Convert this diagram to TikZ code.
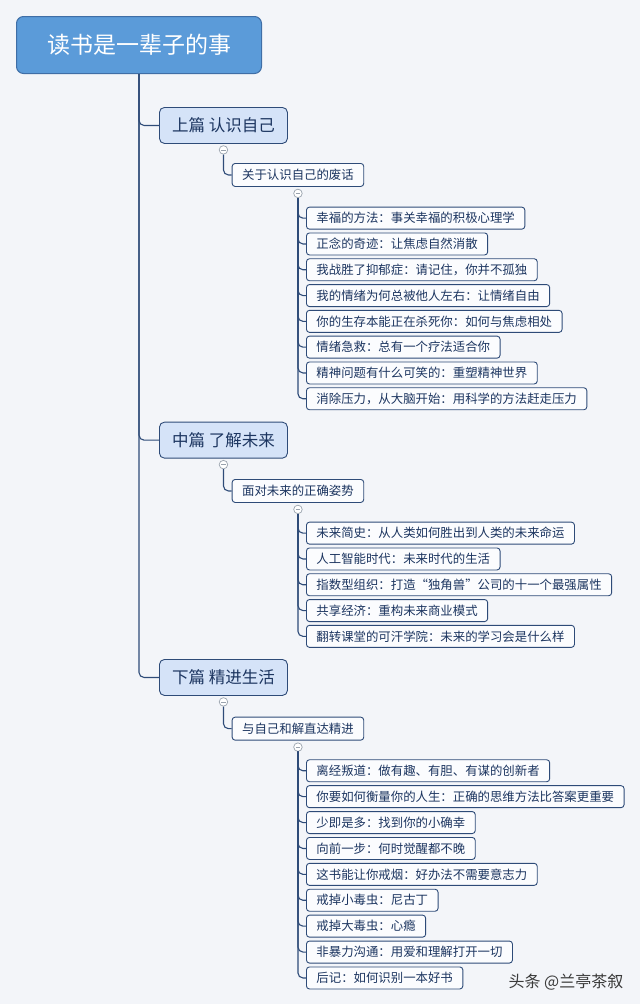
\documentclass[tikz,border=0pt]{standalone}
\usepackage{fontspec}
\newfontfamily\cjk{Noto Sans CJK SC}
\definecolor{bg}{HTML}{F3F5F9}
\definecolor{rootfill}{HTML}{5B9BD9}
\definecolor{rootline}{HTML}{3F6EA6}
\definecolor{onefill}{HTML}{D5E3F8}
\definecolor{linec}{HTML}{2E4B78}
\definecolor{txt}{HTML}{1C3560}
\definecolor{leaffill}{HTML}{FBFCFE}
\definecolor{knob}{HTML}{9AA3AE}
\definecolor{wmc}{HTML}{3A3A3A}
\begin{document}
\begin{tikzpicture}[x=1pt,y=-1pt,
  rootbox/.style={draw=rootline, fill=rootfill, rounded corners=7pt, line width=1pt, text=white,
    font=\cjk\fontsize{23}{27}\selectfont, minimum width=245pt, minimum height=57pt, inner sep=0pt, anchor=north west},
  onebox/.style={draw=linec, fill=onefill, rounded corners=5pt, line width=0.9pt, text=txt,
    font=\cjk\fontsize{16.5}{19}\selectfont, minimum width=128pt, minimum height=36pt, inner sep=0pt, anchor=north west},
  leafbox/.style={draw=linec, fill=leaffill, rounded corners=3pt, line width=0.9pt, text=txt,
    font=\cjk\fontsize{12.4}{14}\selectfont, text width=#1, align=left, inner xsep=10pt, inner ysep=0pt,
    minimum height=22pt, anchor=north west},
  twobox/.style={leafbox=#1, minimum height=23pt},
  link/.style={draw=linec, line width=1.1pt, rounded corners=5pt},
  knobc/.style={circle, draw=knob, fill=white, line width=0.7pt, minimum size=8.5pt, inner sep=0pt},
  minus/.style={draw=knob, line width=0.7pt}
]
\fill[bg] (0,0) rectangle (640,1004);
\useasboundingbox (0,0) rectangle (640,1004);

% root and parts
\node[rootbox] (root) at (16,16) {读书是一辈子的事};
\node[onebox] (p1) at (159,107) {上篇 认识自己};
\node[onebox] (p2) at (159,421.7) {中篇 了解未来};
\node[onebox] (p3) at (159,659) {下篇 精进生活};
\draw[link] (root.south) |- (p1.west);
\draw[link] (root.south) |- (p2.west);
\draw[link] (root.south) |- (p3.west);

% section 1
\node[twobox=111.6pt] (s1) at (231.7,163) {关于认识自己的废话};
\node[knobc] (k1) at ([yshift=-6pt]p1.south) {};
\draw[link] (k1.south) |- (s1.west);
\node[knobc] (k1b) at ([yshift=-6.5pt]s1.south) {};
\node[leafbox=198.4pt] (a1) at (306,206.7) {幸福的方法：事关幸福的积极心理学};
\node[leafbox=161.2pt] (a2) at (306,232.5) {正念的奇迹：让焦虑自然消散};
\node[leafbox=210.8pt] (a3) at (306,258.3) {我战胜了抑郁症：请记住，你并不孤独};
\node[leafbox=223.2pt] (a4) at (306,284.1) {我的情绪为何总被他人左右：让情绪自由};
\node[leafbox=235.6pt] (a5) at (306,309.9) {你的生存本能正在杀死你：如何与焦虑相处};
\node[leafbox=173.6pt] (a6) at (306,335.7) {情绪急救：总有一个疗法适合你};
\node[leafbox=210.8pt] (a7) at (306,361.5) {精神问题有什么可笑的：重塑精神世界};
\node[leafbox=260.4pt] (a8) at (306,387.3) {消除压力，从大脑开始：用科学的方法赶走压力};
\foreach \n in {a1,a2,a3,a4,a5,a6,a7,a8} \draw[link] (k1b.south) |- (\n.west);

% section 2
\node[twobox=111.6pt] (s2) at (231.7,479) {面对未来的正确姿势};
\node[knobc] (k2) at ([yshift=-6pt]p2.south) {};
\draw[link] (k2.south) |- (s2.west);
\node[knobc] (k2b) at ([yshift=-6.5pt]s2.south) {};
\node[leafbox=248pt] (b1) at (306,521.7) {未来简史：从人类如何胜出到人类的未来命运};
\node[leafbox=173.6pt] (b2) at (306,547.5) {人工智能时代：未来时代的生活};
\node[leafbox=285.2pt] (b3) at (306,573.3) {指数型组织：打造“独角兽”公司的十一个最强属性};
\node[leafbox=161.2pt] (b4) at (306,599.1) {共享经济：重构未来商业模式};
\node[leafbox=248pt] (b5) at (306,624.9) {翻转课堂的可汗学院：未来的学习会是什么样};
\foreach \n in {b1,b2,b3,b4,b5} \draw[link] (k2b.south) |- (\n.west);

% section 3
\node[twobox=111.6pt] (s3) at (231.7,716.7) {与自己和解直达精进};
\node[knobc] (k3) at ([yshift=-6pt]p3.south) {};
\draw[link] (k3.south) |- (s3.west);
\node[knobc] (k3b) at ([yshift=-6.5pt]s3.south) {};
\node[leafbox=223.2pt] (c1) at (306,759.3) {离经叛道：做有趣、有胆、有谋的创新者};
\node[leafbox=297.6pt] (c2) at (306,785.2) {你要如何衡量你的人生：正确的思维方法比答案更重要};
\node[leafbox=148.8pt] (c3) at (306,811.1) {少即是多：找到你的小确幸};
\node[leafbox=148.8pt] (c4) at (306,837.0) {向前一步：何时觉醒都不晚};
\node[leafbox=210.8pt] (c5) at (306,862.9) {这书能让你戒烟：好办法不需要意志力};
\node[leafbox=111.6pt] (c6) at (306,888.8) {戒掉小毒虫：尼古丁};
\node[leafbox=99.2pt] (c7) at (306,914.7) {戒掉大毒虫：心瘾};
\node[leafbox=186pt] (c8) at (306,940.6) {非暴力沟通：用爱和理解打开一切};
\node[leafbox=136.4pt] (c9) at (306,966.5) {后记：如何识别一本好书};
\foreach \n in {c1,c2,c3,c4,c5,c6,c7,c8,c9} \draw[link] (k3b.south) |- (\n.west);

% minus signs in knobs
\foreach \k in {k1,k1b,k2,k2b,k3,k3b}
  \draw[minus] ([xshift=-2.2pt]\k.center) -- ([xshift=2.2pt]\k.center);

% watermark
\node[font=\cjk\fontsize{16}{18}\selectfont, text=wmc] (wm) at (566,982) {头条 @兰亭茶叙};
\end{tikzpicture}
\end{document}
